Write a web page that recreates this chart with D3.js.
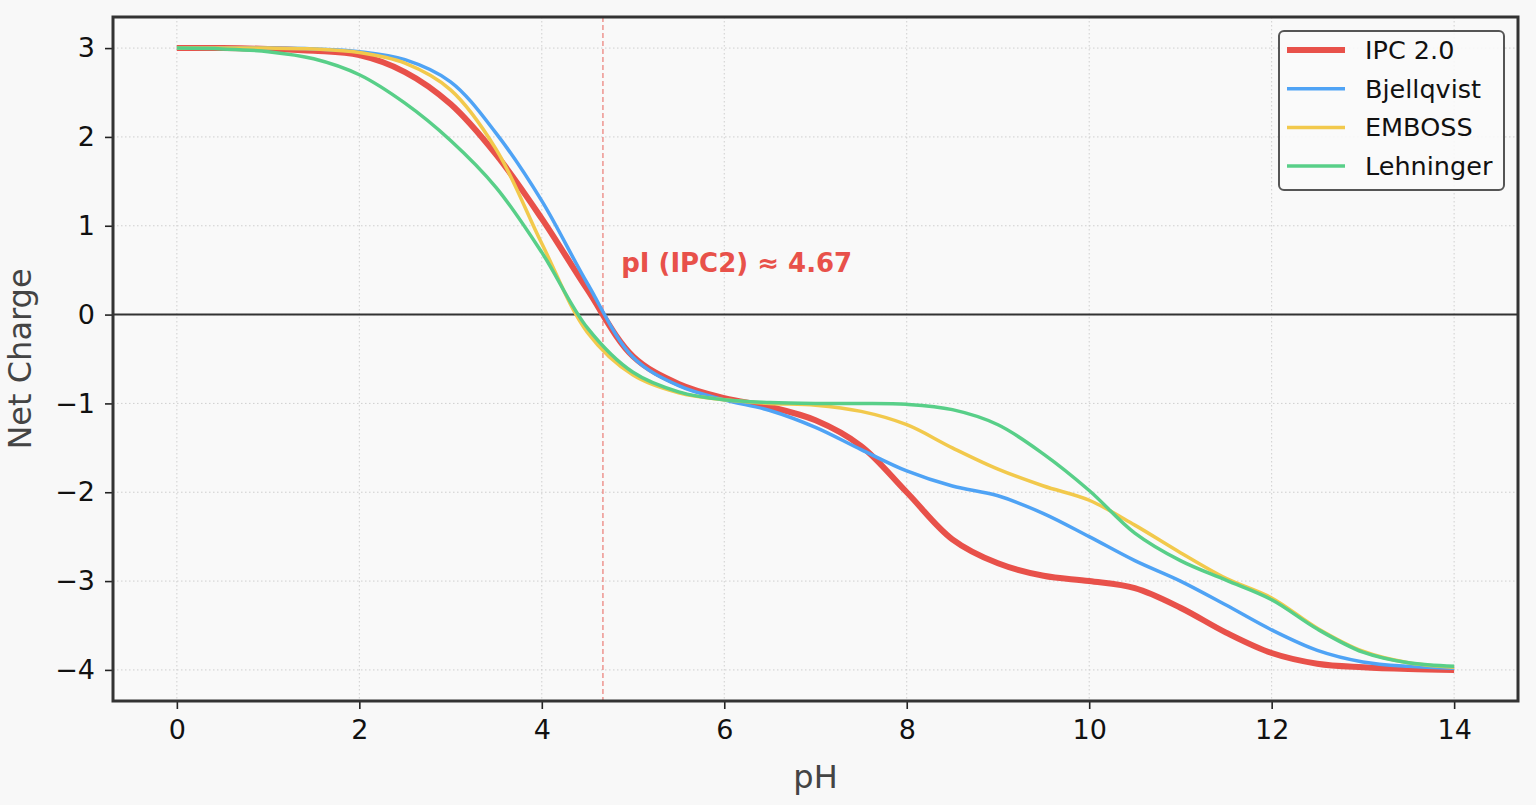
<!DOCTYPE html>
<html>
<head>
<meta charset="utf-8">
<script src="https://cdn.jsdelivr.net/npm/d3@7"></script>
<style>
	body { margin: 0; background: #f8f8f8; }
	svg { display: block; font-family: "DejaVu Sans", sans-serif; }
</style>
</head>
<body>
<svg id="chart" width="1536" height="805"></svg>
<script>
// pH grid and net charge curves
var phValues = [0, 0.5, 1, 1.5, 2, 2.5, 3, 3.5, 4, 4.5, 5, 5.5, 6, 6.5, 7, 7.5, 8, 8.5, 9, 9.5, 10, 10.5, 11, 11.5, 12, 12.5, 13, 13.5, 14];
var ipc2 = [3.00, 3.00, 2.99, 2.97, 2.92, 2.73, 2.37, 1.80, 1.08, 0.28, -0.47, -0.78, -0.94, -1.04, -1.19, -1.48, -2.00, -2.53, -2.80, -2.94, -3.00, -3.08, -3.30, -3.58, -3.81, -3.93, -3.97, -3.99, -4.00];
var bjellqvist = [3.00, 3.00, 3.00, 2.99, 2.96, 2.87, 2.62, 2.04, 1.28, 0.35, -0.48, -0.80, -0.96, -1.08, -1.27, -1.52, -1.76, -1.93, -2.04, -2.24, -2.50, -2.77, -3.00, -3.27, -3.55, -3.78, -3.91, -3.96, -3.98];
var emboss = [3.00, 3.00, 3.00, 2.99, 2.95, 2.83, 2.53, 1.86, 0.80, -0.20, -0.68, -0.88, -0.96, -1.00, -1.02, -1.09, -1.24, -1.50, -1.74, -1.93, -2.09, -2.37, -2.68, -2.97, -3.19, -3.53, -3.79, -3.92, -3.97];
var lehninger = [3.00, 2.99, 2.96, 2.88, 2.70, 2.38, 1.96, 1.43, 0.70, -0.15, -0.65, -0.87, -0.96, -0.99, -1.00, -1.00, -1.01, -1.07, -1.24, -1.57, -1.98, -2.46, -2.77, -2.99, -3.21, -3.54, -3.80, -3.92, -3.96];

var seriesNames = ['IPC 2.0', 'Bjellqvist', 'EMBOSS', 'Lehninger'];
var seriesValues = [ipc2, bjellqvist, emboss, lehninger];
var seriesColors = ['#e8514a', '#4fa3f5', '#f2c94c', '#58cf88'];
var seriesWidths = [6, 3.5, 3.5, 3.5];

var xTicks = [0, 2, 4, 6, 8, 10, 12, 14];
var yTicks = [-4, -3, -2, -1, 0, 1, 2, 3];
var pI = 4.67;

(function () {
	var svg = d3.select('#chart');
	var left = 113, right = 1518, top = 17, bottom = 701;

	var x = d3.scaleLinear().domain([-0.7, 14.7]).range([left, right]);
	var y = d3.scaleLinear().domain([-4.35, 3.35]).range([bottom, top]);

	svg.append('rect')
		.attr('x', left).attr('y', top)
		.attr('width', right - left).attr('height', bottom - top)
		.attr('fill', '#f9f9f9');

	// dotted grid
	svg.append('g').selectAll('line')
		.data(xTicks)
		.enter().append('line')
		.attr('x1', function (d) { return x(d); })
		.attr('x2', function (d) { return x(d); })
		.attr('y1', top).attr('y2', bottom)
		.attr('stroke', '#cfcfcf').attr('stroke-width', 1)
		.attr('stroke-dasharray', '1.5,2.5');
	svg.append('g').selectAll('line')
		.data(yTicks)
		.enter().append('line')
		.attr('y1', function (d) { return y(d); })
		.attr('y2', function (d) { return y(d); })
		.attr('x1', left).attr('x2', right)
		.attr('stroke', '#cfcfcf').attr('stroke-width', 1)
		.attr('stroke-dasharray', '1.5,2.5');

	// zero line and pI marker
	svg.append('line')
		.attr('x1', left).attr('x2', right)
		.attr('y1', y(0)).attr('y2', y(0))
		.attr('stroke', '#333').attr('stroke-width', 2);
	svg.append('line')
		.attr('x1', x(pI)).attr('x2', x(pI))
		.attr('y1', top).attr('y2', bottom)
		.attr('stroke', '#e8514a').attr('stroke-opacity', 0.6)
		.attr('stroke-width', 1.5)
		.attr('stroke-dasharray', '5,3');

	var line = d3.line()
		.x(function (d) { return x(d[0]); })
		.y(function (d) { return y(d[1]); })
		.curve(d3.curveCatmullRom.alpha(0.5));

	svg.append('g').selectAll('path')
		.data([0, 1, 2, 3])
		.enter().append('path')
		.attr('d', function (i) {
			return line(phValues.map(function (p, k) { return [p, seriesValues[i][k]]; }));
		})
		.attr('fill', 'none')
		.attr('stroke', function (i) { return seriesColors[i]; })
		.attr('stroke-width', function (i) { return seriesWidths[i]; })
		.attr('stroke-linejoin', 'round');

	svg.append('text')
		.attr('x', x(pI + 0.2)).attr('y', y(0.48))
		.attr('fill', '#e8514a')
		.attr('font-size', 26).attr('font-weight', 'bold')
		.text('pI (IPC2) \u2248 ' + pI.toFixed(2));

	// axes
	var xAxis = d3.axisBottom(x).tickValues(xTicks).tickSize(8).tickPadding(11)
		.tickFormat(function (d) { return d; });
	var yAxis = d3.axisLeft(y).tickValues(yTicks).tickSize(8).tickPadding(10)
		.tickFormat(function (d) { return d < 0 ? '\u2212' + Math.abs(d) : d; });

	var gx = svg.append('g').attr('transform', 'translate(0,' + bottom + ')').call(xAxis);
	var gy = svg.append('g').attr('transform', 'translate(' + left + ',0)').call(yAxis);
	[gx, gy].forEach(function (g) {
		g.select('.domain').remove();
		g.selectAll('line').attr('stroke', '#222').attr('stroke-width', 1.6);
		g.selectAll('text').attr('fill', '#111').attr('font-size', 27)
			.attr('font-family', '"DejaVu Sans", sans-serif');
	});

	svg.append('rect')
		.attr('x', left).attr('y', top)
		.attr('width', right - left).attr('height', bottom - top)
		.attr('fill', 'none').attr('stroke', '#333').attr('stroke-width', 3);

	svg.append('text')
		.attr('x', (left + right) / 2).attr('y', 788)
		.attr('text-anchor', 'middle')
		.attr('fill', '#444').attr('font-size', 32)
		.text('pH');
	svg.append('text')
		.attr('transform', 'translate(31,' + ((top + bottom) / 2) + ') rotate(-90)')
		.attr('text-anchor', 'middle')
		.attr('fill', '#444').attr('font-size', 32)
		.text('Net Charge');

	// legend
	var lg = svg.append('g').attr('transform', 'translate(1279,31)');
	lg.append('rect')
		.attr('width', 225).attr('height', 159)
		.attr('rx', 5).attr('ry', 5)
		.attr('fill', '#fafafa').attr('fill-opacity', 0.9)
		.attr('stroke', '#555').attr('stroke-width', 2);
	var rows = lg.selectAll('g.row')
		.data(seriesNames)
		.enter().append('g')
		.attr('class', 'row')
		.attr('transform', function (d, i) { return 'translate(0,' + (19 + i * 38.7) + ')'; });
	rows.append('line')
		.attr('x1', 8).attr('x2', 66)
		.attr('stroke', function (d, i) { return seriesColors[i]; })
		.attr('stroke-width', function (d, i) { return seriesWidths[i]; });
	rows.append('text')
		.attr('x', 86).attr('y', 9)
		.attr('fill', '#111').attr('font-size', 25.5)
		.text(function (d) { return d; });
}());
</script>
</body>
</html>
